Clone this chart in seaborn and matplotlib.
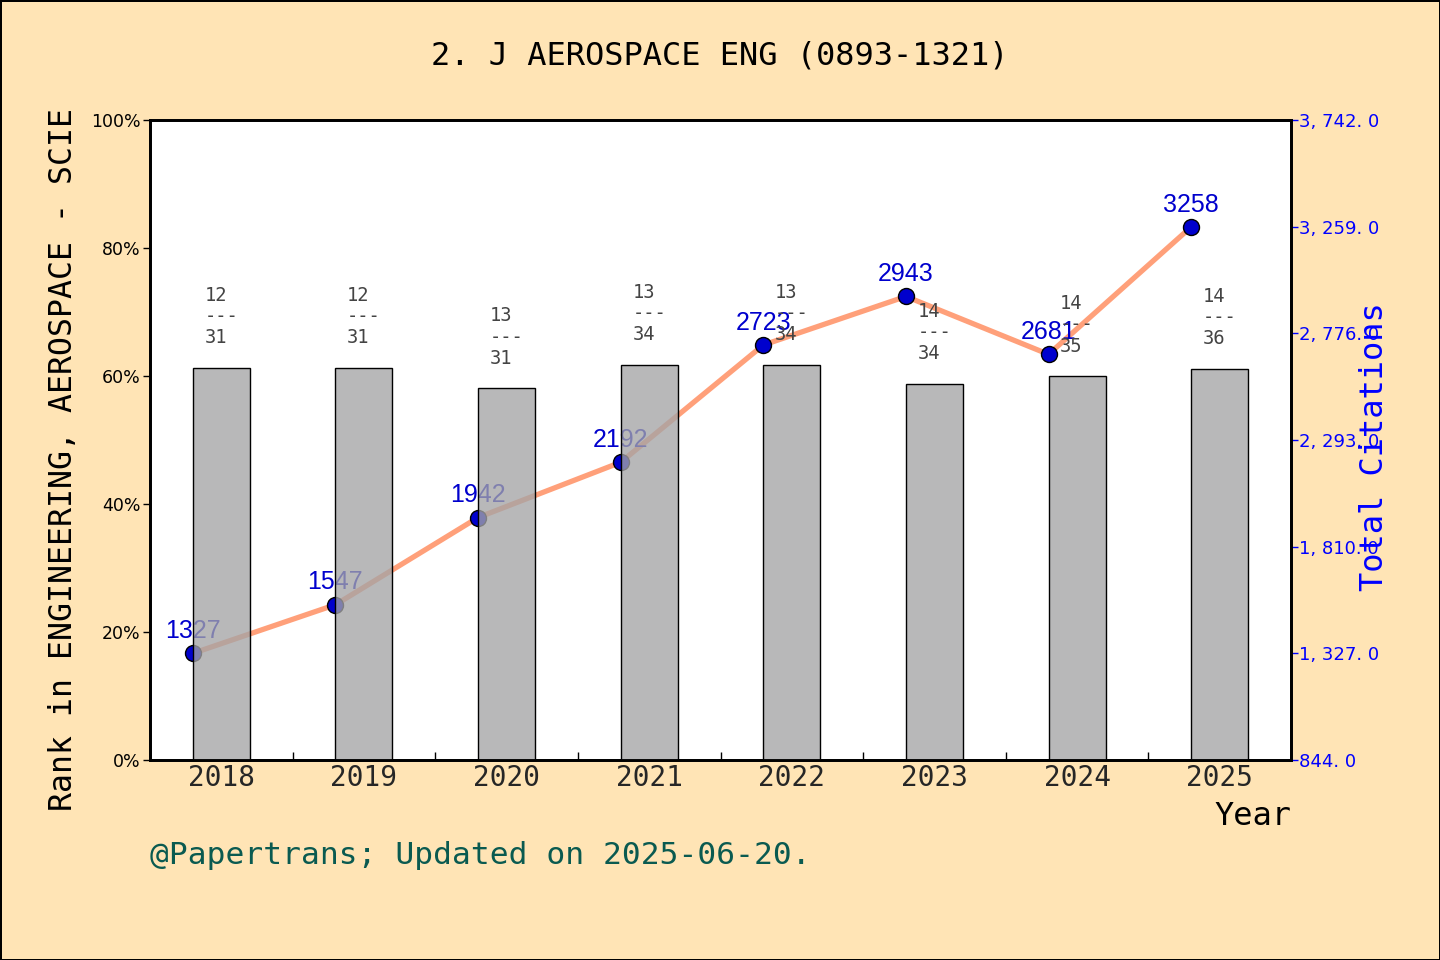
import matplotlib
matplotlib.use("Agg")
import matplotlib.pyplot as plt
import numpy as np
import pandas as pd
import seaborn as sns

years = ["2018", "2019", "2020", "2021", "2022", "2023", "2024", "2025"]
ranks = [12, 12, 13, 13, 13, 14, 14, 14]
totals = [31, 31, 31, 34, 34, 34, 35, 36]
citations = [1327, 1547, 1942, 2192, 2723, 2943, 2681, 3258]
cite_ticks = [844.0, 1327.0, 1810.0, 2293.0, 2776.0, 3259.0, 3742.0]
pct_ticks = [0, 20, 40, 60, 80, 100]

title = "2. J AEROSPACE ENG (0893-1321)"
left_label = "Rank in ENGINEERING, AEROSPACE - SCIE"
right_label = "Total Citations"
footer = "@Papertrans; Updated on 2025-06-20."

sns.set_theme(style="white")
plt.rcParams['font.family'] = ['DejaVu Sans']
mono = "DejaVu Sans Mono"
sans = "Liberation Sans"

df = pd.DataFrame({"Year": years, "Rank": ranks, "Total": totals, "Citations": citations})
df["Percentile"] = (1 - df["Rank"] / df["Total"]) * 100

bar_w = 0.4

fig = plt.figure(figsize=(14.4, 9.6), dpi=100, facecolor="#FFE4B5")
fig.patch.set_edgecolor("black")
fig.patch.set_linewidth(2)
ax1 = fig.add_axes([150 / 1440, 200 / 960, 1141 / 1440, 640 / 960])
ax2 = ax1.twinx()

# bars sit on top of the line (semi-transparent), like the original
ax2.set_zorder(1)
ax1.set_zorder(2)
ax1.patch.set_visible(False)
ax2.patch.set_visible(True)
ax2.patch.set_facecolor("white")

sns.barplot(data=df, x="Year", y="Percentile", ax=ax1, width=bar_w, saturation=1, color="#a4a4a6")
for p in ax1.patches:
    p.set_facecolor((0.643, 0.643, 0.651, 0.78))
    p.set_edgecolor("black")
    p.set_linewidth(1)

# citation points line up with the left edge of each bar
xs = np.arange(len(years))
line_x = xs - bar_w / 2
ax2.plot(line_x, df["Citations"], color="#FFA07A", lw=3.8, marker="o", ms=11.5,
         mfc="mediumblue", mec="black", mew=1, solid_capstyle="round")
for x, c in zip(line_x, df["Citations"]):
    ax2.annotate(str(c), (x, c), xytext=(0, 11), textcoords="offset points",
                 ha="center", va="baseline", color="mediumblue", fontsize=18, family=sans)

for x, h, r, t in zip(xs, df["Percentile"], df["Rank"], df["Total"]):
    ax1.text(x, h + 8, f"{r}\n---\n{t}", ha="center", va="center", multialignment="left",
             fontsize=13.5, color="#444444", linespacing=1.15, family=mono)

ax1.set_xlim(-0.5, len(years) - 0.5)
ax1.set_ylim(0, 100)
ax1.set_yticks(pct_ticks)
ax1.set_yticklabels([f"{v}%" for v in pct_ticks])
ax1.set_xticks(np.arange(0.5, len(years) - 1, 1), minor=True)
ax1.tick_params(axis="y", left=True, direction="out", length=5, width=1, labelsize=12.5, pad=2, colors="black")
ax1.tick_params(axis="x", which="major", bottom=True, length=0, labelsize=20, pad=3)
ax1.tick_params(axis="x", which="minor", bottom=True, direction="in", length=6, width=1, color="black")
for lab in ax1.get_xticklabels():
    lab.set_fontfamily(mono)

ax2.set_xlim(-0.5, len(years) - 0.5)
ax2.set_ylim(cite_ticks[0], cite_ticks[-1])
ax2.set_yticks(cite_ticks)
ax2.set_yticklabels([f"{v:,.1f}".replace(",", ", ").replace(".", ". ") for v in cite_ticks])
ax2.tick_params(axis="y", right=True, direction="out", length=5, width=1, labelsize=13, pad=1, colors="blue")
ax2.grid(False)
ax1.grid(False)

for ax in (ax1, ax2):
    for s in ax.spines.values():
        s.set_color("black")
        s.set_linewidth(2)

ax1.set_xlabel("Year", loc="right", fontsize=23, family=mono, color="black")
ax1.xaxis.set_label_coords(1.0, -0.089)
ax1.xaxis.label.set_va("center")
ax1.set_ylabel(left_label, fontsize=22.7, family=mono, color="black")
ax1.yaxis.set_label_coords(-0.076, 0.47)
ax1.yaxis.label.set_va("center")
ax2.set_ylabel(right_label, fontsize=23, family=mono, color="blue")
ax2.yaxis.set_label_coords(1.0736, 0.49)
ax2.yaxis.label.set_va("center")

fig.text(0.5, 1 - 56 / 960, title, ha="center", va="center", fontsize=23, family=mono, color="black")
fig.text(150 / 1440, 1 - 855 / 960, footer, ha="left", va="center", fontsize=22.5, family=mono, color="#0a5a50")

fig.savefig("out.png", dpi=100, facecolor=fig.get_facecolor(), edgecolor="black")
